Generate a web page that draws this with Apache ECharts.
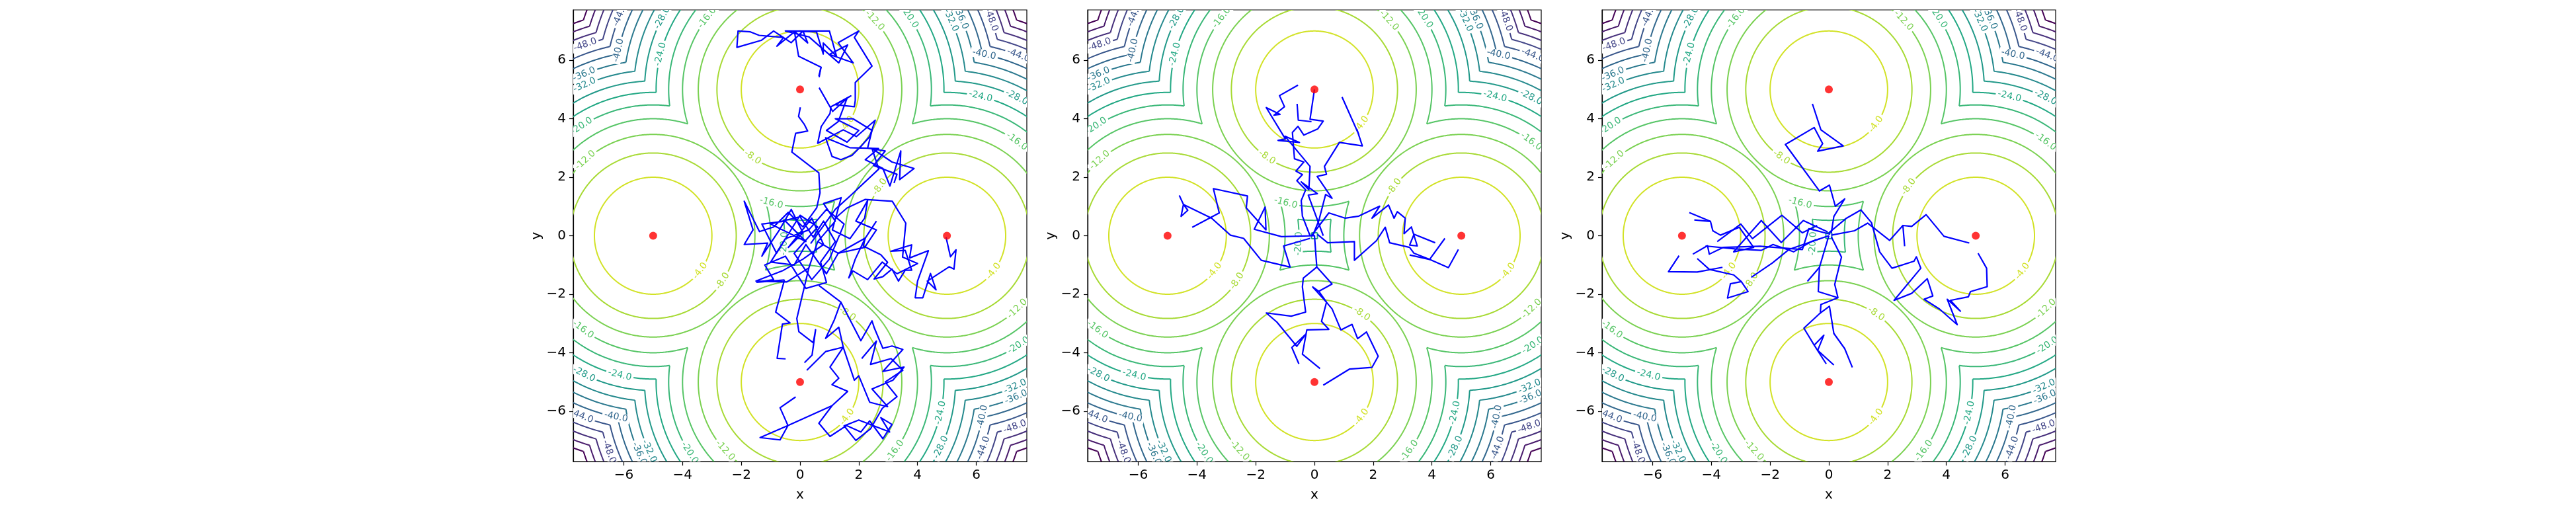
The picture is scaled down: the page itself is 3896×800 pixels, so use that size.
<!DOCTYPE html>
<html><head><meta charset="utf-8">
<script src="https://cdn.jsdelivr.net/npm/echarts@6/dist/echarts.min.js"></script>
<style>html,body{margin:0;padding:0;background:#fff}#c{width:3896px;height:800px}</style>
</head><body><div id="c"></div>
<script>
// ---------------- data ----------------
const wellCenters = [[-5, 0], [5, 0], [0, 5], [0, -5]];
const contourLevels = [-60, -56, -52, -48, -44, -40, -36, -32, -28, -24, -20, -16, -12, -8, -4];
const tickValues = [-6, -4, -2, 0, 2, 4, 6];
const axisMin = -7.72, axisMax = 7.72;
// approximate anchor of each inline contour label: [x, y, level]
const contourLabels = [
  [-6.13, 7.55, -44], [-7.35, 6.63, -48], [-6.19, 6.34, -40], [-7.40, 5.64, -36], [-7.40, 5.30, -32],
  [-4.68, 7.44, -28], [-4.80, 6.22, -24], [-3.23, 7.50, -16], [-7.46, 3.79, -20], [-7.35, 2.63, -12],
  [-1.61, 2.69, -8], [-0.97, 1.16, -16], [-0.57, -0.27, -20], [-3.41, -1.19, -4], [-2.65, -1.54, -8],
  [1.55, 3.85, -4], [2.68, 1.70, -8], [1.63, -2.64, -8], [1.58, -6.18, -4], [6.56, -1.19, -4],
  [2.56, 7.38, -12], [3.78, 7.50, -20], [5.17, 7.38, -32], [5.46, 7.44, -36], [6.50, 7.38, -48],
  [6.27, 6.22, -40], [7.43, 6.16, -44], [6.15, 4.77, -24], [7.37, 4.72, -28], [7.37, 3.21, -16],
  [7.37, -2.47, -12], [7.43, -3.74, -20], [7.31, -5.13, -32], [7.31, -5.42, -36], [6.15, -6.18, -40],
  [7.31, -6.52, -48], [6.15, -7.22, -44], [4.76, -7.22, -28], [4.82, -6.06, -24], [3.20, -7.33, -16],
  [-2.54, -7.33, -12], [-3.81, -7.45, -20], [-5.17, -7.38, -32], [-5.46, -7.44, -36], [-6.50, -7.38, -48],
  [-6.27, -6.22, -40], [-7.43, -6.16, -44], [-6.13, -4.73, -24], [-7.35, -4.73, -28], [-7.40, -3.22, -16]
];

// panel 1 walk (segments)
const walk1 = [
  [[0.64,5.46],[0.72,5.76],[-0.05,6.14],[-0.19,6.97],[-0.79,6.48],[-0.56,6.78],[-1.39,6.85],[-1.69,6.97],[-2.11,7.0],[-2.15,6.44],[-1.32,6.68],[-0.9,7.0],[-0.3,6.6],[0.1,7.0],[0.26,6.59],[-0.2,7.0],[0.56,6.97],[0.79,6.21],[0.79,6.59],[1.24,6.14],[1.0,7.0],[-0.5,7.0],[0.3,6.8],[1.32,5.91],[1.62,6.52],[1.0,6.2],[1.81,5.91],[1.3,6.6],[2.0,7.0],[1.85,6.78],[2.45,5.80],[1.88,5.24],[1.88,4.63],[1.85,4.41],[1.21,4.48],[1.73,4.78],[1.05,4.41],[1.02,4.18],[0.72,3.73],[0.60,3.16],[1.47,3.62],[1.92,3.39],[2.56,3.95],[2.37,3.39],[2.07,3.05],[1.77,2.75],[1.39,2.60],[1.09,2.71],[0.87,3.35],[1.69,3.01],[2.67,2.98],[2.22,2.60],[2.82,2.30],[3.06,1.70],[3.43,2.90],[3.39,1.92],[3.88,2.30],[3.13,2.52],[2.45,2.98],[2.68,2.28],[1.75,1.4],[1.2,0.9],[0.36,-0.27]],
  [[0.70,5.72],[0.65,5.42]],
  [[0.65,5.06],[1.11,4.25],[1.6,4.7],[1.3,3.9],[0.9,3.6],[1.6,3.2],[2.0,3.6],[1.2,4.0],[1.8,4.0],[2.45,3.6],[2.3,3.0],[2.9,2.9],[2.5,2.4],[3.3,2.1],[3.2,1.8]],
  [[0.01,4.39],[-0.05,4.08],[0.15,3.80],[0.26,3.58],[-0.15,3.50],[-0.28,2.86],[0.64,2.15],[0.68,1.47],[0.57,0.96],[0.1,0.3]],
  [[0.1,0.3],[-0.4,0.8],[-0.9,0.3],[-1.38,0.14],[-1.90,1.18],[-1.6,0.2],[-1.9,-0.3],[-1.1,-0.25],[-1.3,-0.7],[-0.7,0.2],[-0.3,0.9],[0.1,0.1],[-0.4,-0.4],[0.4,0.6],[0.8,-0.3],[0.1,-0.8],[-0.6,-1.2],[-1.5,-1.55],[-0.45,-1.58],[0.3,-1.1],[0.6,-0.2],[1.2,0.5],[0.8,1.1],[1.4,1.3],[1.1,0.2],[1.7,-0.1],[2.2,0.6],[2.3,1.2],[1.9,0.5],[2.6,0.2],[2.2,-0.4],[1.3,-0.6],[0.9,-1.3],[0.2,-0.3],[-0.2,-1.0],[-1.0,-0.9],[-0.5,-0.1],[0.3,0.2],[0.9,0.9],[1.5,0.4],[1.0,-0.8],[0.4,-1.5],[-0.2,-0.6],[0.6,0.3],[0.0,0.7],[-0.8,-0.6],[-1.3,0.4],[-0.5,0.5],[0.2,-0.2],[-1.0,0.4],[0.0,0.65],[0.45,-0.05],[0.8,0.5],[1.2,-0.2],[0.7,-0.9],[0.9,-1.6],[0.2,-1.8],[-0.5,-0.7],[-1.2,-1.0],[-0.9,-1.5],[-1.47,-1.59],[-0.53,-1.51]],
  [[0.6,-0.2],[1.3,-0.6],[2.22,-0.08],[2.15,-0.35],[2.75,-0.65],[2.98,-0.91],[2.52,-1.48],[2.82,-1.40],[3.13,-1.14],[3.35,-1.55],[3.58,-1.18],[3.80,-1.18],[3.58,-0.50],[3.09,-0.53],[3.80,-0.31],[3.73,-0.76],[4.37,-0.51],[4.0,-1.55],[3.92,-2.12],[4.18,-2.12],[4.44,-1.29],[4.63,-1.85],[4.33,-1.55],[5.08,-1.06],[5.24,-1.14],[5.31,-0.48],[5.12,-0.72],[4.97,-0.05]],
  [[1.2,0.6],[1.6,0.95],[2.21,1.24],[3.14,1.18],[3.60,0.43],[3.49,-0.73],[4.0,-0.95],[3.3,-1.3],[2.8,-0.9],[2.3,-1.5],[1.8,-1.2],[1.66,-1.44],[1.88,-0.80],[2.22,-0.08],[2.6,0.5]],
  [[-0.53,-1.51],[-0.83,-2.61],[-0.34,-2.98],[-0.60,-3.02],[-0.78,-4.19],[-0.49,-4.21]],
  [[0.3,-1.1],[-0.11,-2.83],[-0.04,-3.28],[0.45,-3.66],[0.53,-3.21],[0.41,-4.08],[0.15,-4.34]],
  [[0.64,-1.70],[1.39,-2.27],[1.17,-2.87],[0.87,-3.51],[1.32,-3.13],[1.47,-3.81],[0.87,-3.96],[0.23,-4.60]],
  [[1.39,-2.27],[2.07,-3.59],[2.45,-2.91],[2.52,-3.13],[2.82,-3.85],[3.13,-3.77],[3.50,-3.89],[2.82,-4.64],[3.54,-4.49],[3.16,-4.94],[2.45,-5.24],[2.98,-5.84],[2.67,-5.77],[2.37,-5.69],[2.0,-4.79],[1.85,-4.94],[1.47,-3.81],[1.02,-4.49],[1.32,-4.87],[1.09,-5.09],[1.62,-5.32],[1.09,-5.81],[-0.41,-6.49],[-1.36,-6.90],[-0.68,-6.98],[-0.41,-6.49],[-0.68,-5.88],[-0.15,-5.51]],
  [[1.09,-5.81],[0.64,-6.41],[1.02,-6.86],[1.58,-6.49],[2.07,-6.71],[2.37,-6.33],[2.82,-6.94],[3.13,-6.45],[2.75,-6.22],[3.05,-6.71],[2.0,-6.3],[1.5,-6.5],[1.9,-7.0],[2.4,-6.6],[2.8,-5.9],[3.3,-5.5],[2.9,-5.0],[3.5,-4.6],[3.1,-4.2],[2.4,-4.4],[2.6,-3.6],[2.1,-4.2]]
];

// panel 2 walk (segments)
const walk2 = [
  [[0,5.0],[-0.15,3.98],[0.30,3.92],[0.11,3.65],[-0.36,3.44],[-0.56,3.74],[-0.75,3.53],[-0.68,2.63],[-0.36,2.52],[-0.63,2.21],[-0.41,2.09],[-0.60,1.88],[-0.30,1.57],[-0.45,1.2],[-0.41,0.67],[-0.15,0.0]],
  [[-0.59,4.51],[-0.55,3.95],[-0.1,3.9]],
  [[-0.56,5.15],[-1.19,4.79],[-1.02,4.41],[-1.38,4.12],[-1.17,4.15],[-1.64,4.38],[-0.99,3.31],[-1.24,3.26],[-0.51,3.19],[-1.0,3.4],[-0.15,2.37],[-0.19,1.57],[-0.45,1.84],[0.10,1.44],[-0.21,1.39],[0.30,0.0]],
  [[0.94,4.74],[1.51,3.46],[1.45,3.62],[1.63,3.07],[0.85,3.19],[0.34,2.37],[0.41,2.10],[0.09,2.03],[0.60,1.28],[0.38,1.41],[0.15,0.52],[-0.06,0.0]],
  [[-4.60,1.38],[-4.46,1.07],[-4.54,0.66],[-4.31,0.87],[-4.46,1.07],[-3.5,0.6],[-2.86,0.02],[-2.41,-0.09],[-1.81,-0.84],[-0.83,-1.07],[-1.05,-0.35],[-0.15,-0.09]],
  [[-4.16,0.29],[-3.24,0.78],[-3.44,1.61],[-2.28,1.36],[-2.32,0.95],[-1.65,0.20],[-1.68,0.98],[-2.05,0.22],[-1.12,-0.03],[0,0]],
  [[0,0.02],[0.08,-1.07],[0.60,-1.65],[0.15,-1.90],[0.41,-2.27],[0.24,-2.93],[0.49,-3.20],[-0.26,-3.22],[-0.41,-4.05],[0.19,-4.54]],
  [[0.08,-1.07],[-0.38,-1.45],[-0.41,-1.75],[-0.30,-2.61],[-0.79,-2.75],[-1.64,-2.64],[-1.28,-2.95],[-0.60,-3.78],[-0.30,-3.37],[-0.77,-3.82],[-0.53,-4.38]],
  [[0.15,-1.90],[-0.06,-1.75],[0.38,-2.24],[0.60,-2.50],[0.90,-3.22],[1.28,-3.03],[1.47,-3.52],[1.77,-3.29],[2.17,-4.12],[1.96,-4.50],[1.19,-4.56],[0.30,-5.11]],
  [[-0.1,0.0],[0.49,0.78],[1.05,0.60],[1.51,0.67],[2.22,1.01],[1.96,0.60],[2.52,1.05],[2.71,0.60],[2.82,0.82],[3.09,0.60],[3.05,0.07],[3.3,0.3],[3.5,-0.35],[3.24,-0.32],[3.39,0.05],[4.11,-0.24]],
  [[0.1,0.05],[0.45,-0.24],[1.36,-0.20],[1.36,-0.84],[2.11,-0.17],[2.41,0.29],[2.56,-0.24],[3.24,-0.40],[3.39,-0.60],[3.92,-0.81],[4.56,-1.09],[4.90,-0.47]],
  [[3.24,-0.66],[3.92,-0.81],[4.44,-0.09]]
];

// panel 3 walk (segments)
const walk3 = [
  [[-0.56,4.51],[-0.27,3.62],[0.49,3.07],[-0.38,2.89],[-0.21,3.15],[-0.50,3.70],[-1.48,3.12],[-0.32,1.53],[0.02,1.73],[0.22,1.01],[0.54,1.26],[0.17,0.66],[0.08,0.08]],
  [[-4.75,0.79],[-4.03,0.49],[-3.95,0.17],[-3.69,0.02],[-3.05,0.29],[-2.56,-0.40],[-3.24,-0.55],[-2.30,0.52],[-1.62,-0.23],[-0.87,0.52],[-0.04,0.13]],
  [[-4.58,0.54],[-4.03,0.49]],
  [[-4.63,-0.63],[-4.13,-0.34],[-4.07,-0.63],[-3.6,-0.4],[-2.34,-0.36],[-0.90,-0.47],[-0.68,0.24],[0.05,0.05]],
  [[-5.10,-0.68],[-5.46,-1.23],[-4.48,-1.24],[-3.62,-1.08]],
  [[-4.48,-0.78],[-4.07,-1.15],[-3.24,-1.34],[-2.98,-1.57],[-3.35,-1.64],[-3.45,-2.13],[-2.75,-1.91],[-2.98,-1.57]],
  [[-2.64,-1.42],[-1.92,-0.93],[-1.36,-0.47],[-0.3,-0.1]],
  [[-4.2,-0.35],[-3.2,-0.45],[-2.3,-0.5],[-1.9,-0.3],[-1.2,-0.55],[-0.6,-0.2],[0,0]],
  [[-3.8,-0.2],[-3.0,0.4],[-2.6,-0.1],[-1.6,0.7],[-0.9,0.1],[-0.4,0.35]],
  [[0.08,-0.03],[0.43,-0.73],[0.20,-1.66],[0.31,-2.12],[-0.27,-2.35],[-0.29,-2.64],[0.02,-2.41],[0.17,-3.34],[0.54,-3.86],[0.80,-4.50]],
  [[0.0,0.0],[-0.32,-1.08],[-0.73,-1.56]],
  [[-0.32,-1.08],[-0.36,-1.91],[0.31,-2.12]],
  [[-0.29,-2.64],[-0.85,-3.16],[-0.50,-3.74],[-0.17,-3.40],[-0.38,-3.92],[0.17,-4.42]],
  [[-0.50,-3.74],[-0.09,-4.38]],
  [[0.08,0.02],[0.87,0.17],[1.32,0.43],[2.07,-0.16],[2.52,0.35],[2.58,-0.36]],
  [[2.52,0.35],[2.82,0.32],[3.31,0.72],[3.92,-0.02],[4.78,-0.25]],
  [[0.0,0.1],[0.6,0.6],[1.09,0.88],[1.45,0.45],[1.73,-0.55],[2.15,-1.11],[2.90,-0.87],[2.98,-0.72],[3.13,-1.11],[2.22,-2.21],[2.82,-1.97],[3.35,-1.47],[3.54,-2.06],[3.24,-2.17],[3.77,-2.51],[4.37,-3.04],[4.03,-2.17],[4.48,-2.58],[4.14,-2.21],[4.75,-2.09],[4.82,-1.91],[5.39,-1.74],[5.37,-1.11],[5.08,-0.60]]
];
const walks = [walk1, walk2, walk3];

// ---------------- helpers ----------------
const viridisStops = ['#440154','#482475','#414487','#355f8d','#2a788e','#21918c','#22a884','#44bf70','#7ad151','#bddf26','#fde725'];
function hexToRgb(h){ return [parseInt(h.substr(1,2),16), parseInt(h.substr(3,2),16), parseInt(h.substr(5,2),16)]; }
function viridis(t){
  t = Math.max(0, Math.min(1, t));
  const s = t * 10, i = Math.min(9, Math.floor(s)), f = s - i;
  const a = hexToRgb(viridisStops[i]), b = hexToRgb(viridisStops[i + 1]);
  return 'rgb(' + a.map((v, k) => Math.round(v + (b[k] - v) * f)).join(',') + ')';
}
const lvMin = Math.min(...contourLevels), lvMax = 0;
function levelColor(L){ return viridis((L - lvMin) / (lvMax - lvMin)); }

function inCell(p, i){
  const c = wellCenters[i];
  const d0 = (p[0]-c[0])**2 + (p[1]-c[1])**2;
  for (let j = 0; j < wellCenters.length; j++){
    if (j === i) continue;
    const q = wellCenters[j];
    if ((p[0]-q[0])**2 + (p[1]-q[1])**2 < d0 - 1e-12) return false;
  }
  return true;
}
// iso-lines of -min(r^2): arcs of radius sqrt(-L) inside each well's cell
function contourArcs(level){
  const r = Math.sqrt(-level), arcs = [], N = 720, TW = Math.PI * 2;
  wellCenters.forEach((c, i) => {
    const pt = th => [c[0] + r * Math.cos(th), c[1] + r * Math.sin(th)];
    const inside = th => inCell(pt(th), i);
    let start = null;
    for (let k = 0; k < N; k++){ if (!inside(k / N * TW)) { start = k / N * TW; break; } }
    if (start === null){
      const full = []; for (let k = 0; k <= N; k++) full.push(pt(k / N * TW));
      arcs.push(full); return;
    }
    let cur = null, prevTh = start, prevIn = false;
    for (let k = 1; k <= N; k++){
      const th = start + k / N * TW, inn = inside(th);
      if (inn !== prevIn){
        let a = prevTh, b = th;
        for (let it = 0; it < 40; it++){ const m = (a + b) / 2; if (inside(m) === prevIn) a = m; else b = m; }
        const bp = pt((a + b) / 2);
        if (inn){ cur = [bp, pt(th)]; }
        else { cur.push(bp); arcs.push(cur); cur = null; }
      } else if (inn){ cur.push(pt(th)); }
      prevTh = th; prevIn = inn;
    }
  });
  return arcs;
}
const contourItems = [];
contourLevels.forEach(L => contourArcs(L).forEach(a => contourItems.push({pts: a, color: levelColor(L), level: L})));

// labels snapped onto their contour, rotated along it
const labelItems = contourLabels.map(([x, y, L]) => {
  let best = 0, bd = Infinity;
  wellCenters.forEach((c, i) => { const d = (x-c[0])**2 + (y-c[1])**2; if (d < bd){ bd = d; best = i; } });
  const c = wellCenters[best], r = Math.sqrt(-L), d = Math.sqrt(bd);
  const ux = (x - c[0]) / d, uy = (y - c[1]) / d;
  let ang = Math.atan2(uy, ux) + Math.PI / 2;
  while (ang > Math.PI / 2) ang -= Math.PI;
  while (ang <= -Math.PI / 2) ang += Math.PI;
  return {pos: [c[0] + r * ux, c[1] + r * uy], rot: ang, text: L.toFixed(1), color: levelColor(L)};
});

// ---------------- chart ----------------
const FONT = "'DejaVu Sans', sans-serif";
const gridLefts = [867, 1645, 2423];
const grids = [], xAxes = [], yAxes = [], series = [];
const minusFmt = v => String(v).replace('-', '\u2212');
gridLefts.forEach((left, g) => {
  grids.push({left: left, top: 15, width: 686, height: 683, show: true, borderColor: '#000', borderWidth: 1.2, backgroundColor: 'transparent', containLabel: false});
  const axisCommon = {
    gridIndex: g, type: 'value', min: axisMin, max: axisMax,
    nameLocation: 'middle',
    nameTextStyle: {fontSize: 20, color: '#000', fontFamily: FONT},
    axisLine: {show: true, onZero: false, lineStyle: {color: '#000', width: 1.2}},
    axisTick: {show: true, inside: false, length: 6, customValues: tickValues, lineStyle: {color: '#000', width: 1.2}},
    axisLabel: {customValues: tickValues, formatter: minusFmt, fontSize: 20, color: '#000', fontFamily: FONT, margin: 11},
    splitLine: {show: false}
  };
  xAxes.push(Object.assign({}, axisCommon, {name: 'x', nameGap: 41}));
  yAxes.push(Object.assign({}, axisCommon, {name: 'y', nameGap: 45}));

  series.push({
    type: 'custom', xAxisIndex: g, yAxisIndex: g, clip: true, silent: true, z: 1,
    data: contourItems.map(a => a.pts[0]),
    renderItem: (params, api) => {
      const a = contourItems[params.dataIndex];
      return {type: 'polyline', shape: {points: a.pts.map(p => api.coord(p))},
              style: {stroke: a.color, lineWidth: 2, fill: null, lineJoin: 'round'}};
    }
  });
  series.push({
    type: 'custom', xAxisIndex: g, yAxisIndex: g, clip: true, silent: true, z: 2,
    data: labelItems.map(l => l.pos),
    renderItem: (params, api) => {
      const l = labelItems[params.dataIndex];
      const p = api.coord(l.pos);
      return {type: 'text', x: p[0], y: p[1], rotation: l.rot,
              style: {text: l.text, fill: l.color, font: '14px ' + FONT, align: 'center', verticalAlign: 'middle',
                      backgroundColor: '#ffffff', padding: [0, 3]}};
    }
  });
  const segs = walks[g];
  series.push({
    type: 'custom', xAxisIndex: g, yAxisIndex: g, clip: true, silent: true, z: 3,
    data: segs.map(s => s[0]),
    renderItem: (params, api) => {
      const s = segs[params.dataIndex];
      return {type: 'polyline', shape: {points: s.map(p => api.coord(p))},
              style: {stroke: '#0000ff', lineWidth: 2.2, fill: null, lineJoin: 'round'}};
    }
  });
  series.push({
    type: 'scatter', xAxisIndex: g, yAxisIndex: g, z: 4, silent: true,
    data: wellCenters, symbol: 'circle', symbolSize: 12, itemStyle: {color: '#ff0000'}
  });
});

const chart = echarts.init(document.getElementById('c'), null, {renderer: 'canvas', width: 3896, height: 800});
chart.setOption({
  animation: false, backgroundColor: '#ffffff',
  textStyle: {fontFamily: FONT},
  grid: grids, xAxis: xAxes, yAxis: yAxes, series: series
});
</script>
</body></html>
